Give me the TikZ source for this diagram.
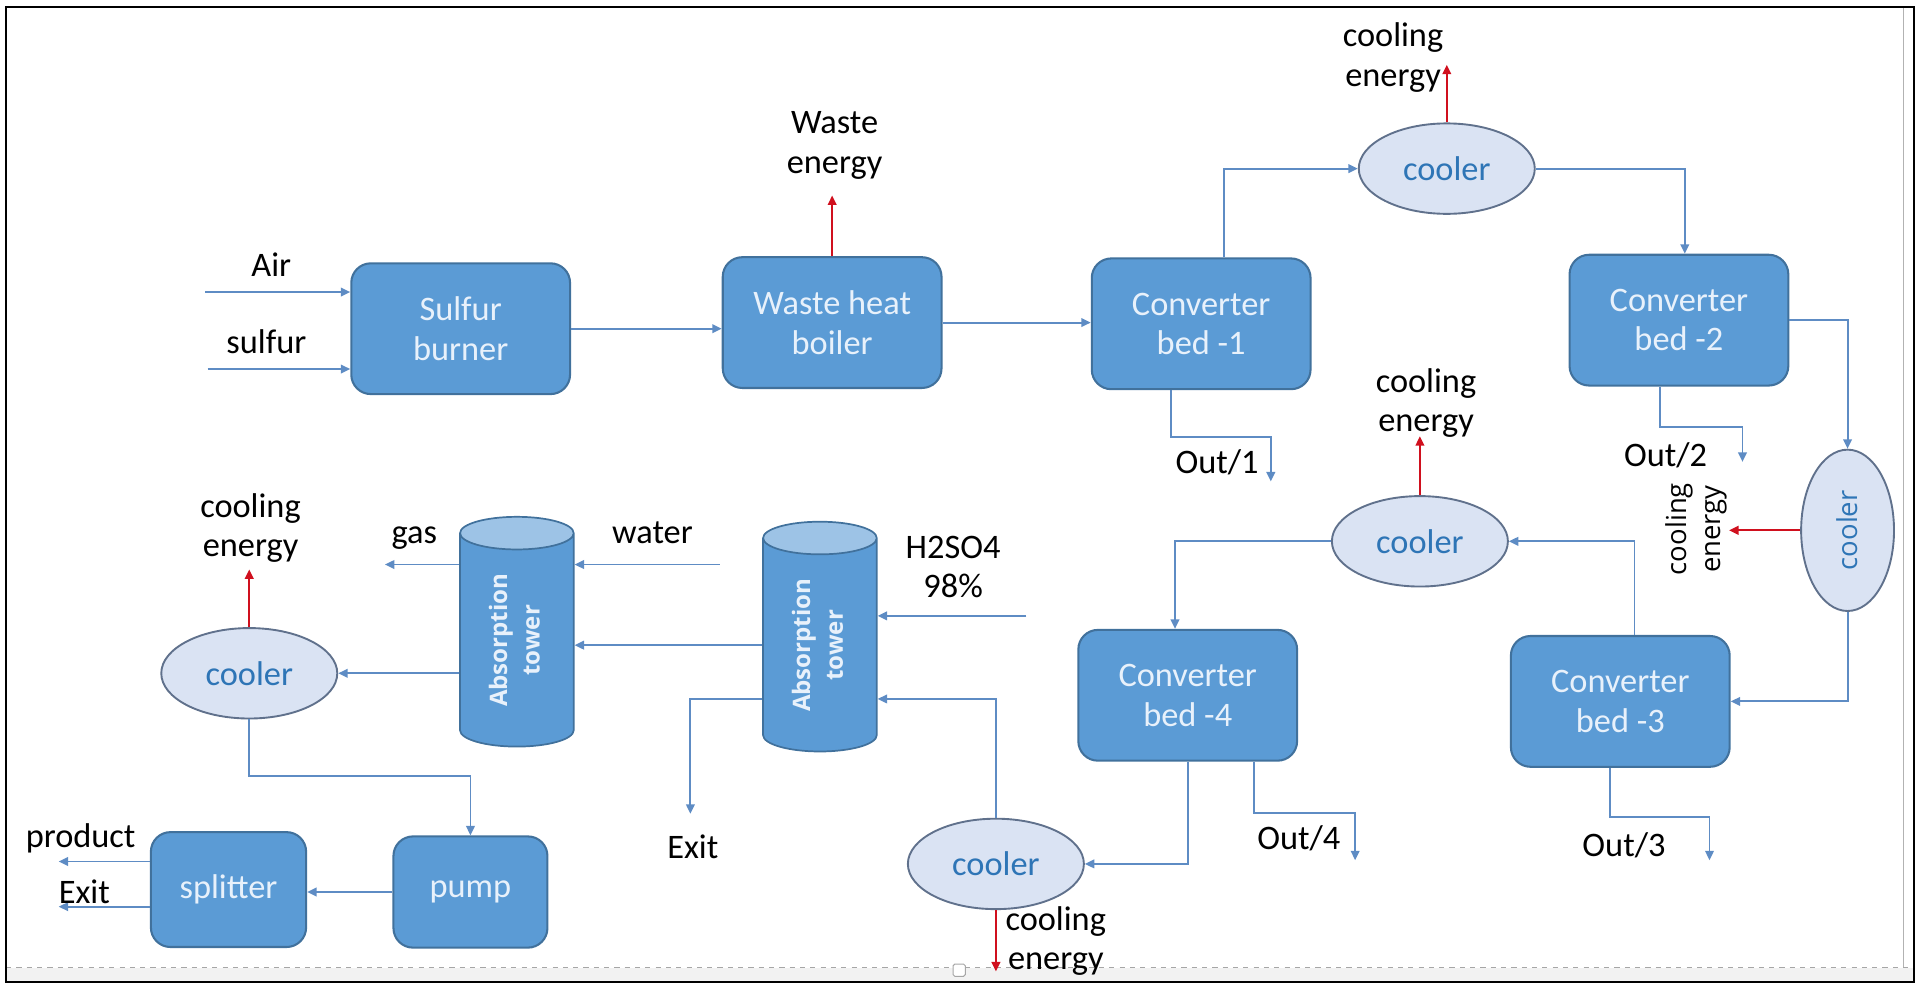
\documentclass[tikz,border=0pt]{standalone}
\usepackage{fontspec}
\setmainfont{Carlito}
\newfontfamily\sidefont{Open Sans}
\usetikzlibrary{arrows.meta,shapes.geometric}

\definecolor{unitblue}{HTML}{5B9BD5}
\definecolor{unitedge}{HTML}{41719C}
\definecolor{unittext}{HTML}{E8F1FB}
\definecolor{capblue}{HTML}{9DC3E6}
\definecolor{coolerfill}{HTML}{DAE3F3}
\definecolor{cooleredge}{HTML}{60718C}
\definecolor{coolertext}{HTML}{2E75B6}
\definecolor{flowblue}{HTML}{5E8CC4}
\definecolor{heatred}{HTML}{D0101E}

\tikzset{
  unit/.style={draw=unitedge, line width=1.2pt, fill=unitblue, rounded corners=0.4cm, text=unittext, align=center, minimum width=4.475cm, minimum height=2.675cm},
  cooler/.style={ellipse, draw=cooleredge, line width=1.1pt, fill=coolerfill, text=coolertext, minimum width=3.6cm, minimum height=1.85cm, inner sep=0pt},
  tower/.style={cylinder, shape border rotate=90, aspect=0.5, draw=unitedge, line width=1pt, cylinder uses custom fill, cylinder body fill=unitblue, cylinder end fill=capblue, minimum width=2.325cm, minimum height=4.7cm, inner sep=0pt, text=unittext, font=\sidefont\bfseries\fontsize{14}{19}\selectfont},
  flow/.style={draw=flowblue, line width=1.1pt, -{Triangle[length=5.5pt,width=5pt]}},
  heat/.style={draw=heatred, line width=1.2pt, -{Triangle[length=5.5pt,width=5pt]}},
  lbl/.style={align=center, inner sep=0pt}
}

\begin{document}
\begin{tikzpicture}[x=0.025cm, y=-0.025cm, font=\fontsize{20}{23}\selectfont]
    \useasboundingbox (0,0) rectangle (1568,808);
    \fill[gray!10] (5,792) rectangle (1566,804);
    \draw[gray!60, line width=0.8pt] (1558,6) -- (1558,792);
    \draw[gray!70, dashed, line width=0.6pt] (5,792) -- (1566,792);
    \draw[gray!70, fill=white, rounded corners=1pt, line width=0.6pt] (780,789) rectangle (790,799);
    \draw[line width=1.2pt] (5,6) rectangle (1566,804);

    \node[unit] (burner) at (377,269) {Sulfur\\burner};
    \node[unit] (boiler) at (681,264) {Waste heat\\boiler};
    \node[unit] (bed1) at (983,265) {Converter\\bed -1};
    \node[unit] (bed2) at (1374,262) {Converter\\bed -2};
    \node[unit] (bed3) at (1326,574) {Converter\\bed -3};
    \node[unit] (bed4) at (972,569) {Converter\\bed -4};
    \node[unit, minimum width=3.175cm, minimum height=2.35cm] (splitter) at (187,728) {splitter};
    \node[unit, minimum width=3.15cm, minimum height=2.275cm] (pump) at (385,730) {pump};
    \node[cooler] (cooler1) at (1184,138) {cooler};
    \node[cooler, minimum width=1.9cm, minimum height=3.3cm, font=\sidefont\fontsize{16}{20}\selectfont] (cooler2) at (1512,434) {\rotatebox{90}{cooler}};
    \node[cooler] (cooler3) at (1162,443) {cooler};
    \node[cooler] (cooler4) at (815,707) {cooler};
    \node[cooler] (cooler5) at (204,551) {cooler};
    \node[tower] (tower1) at (423,524) {\rotatebox{90}{\begin{tabular}{@{}c@{}}Absorption\\tower\end{tabular}}};
    \node[tower] (tower2) at (671,528) {\rotatebox{90}{\begin{tabular}{@{}c@{}}Absorption\\tower\end{tabular}}};

    \coordinate (airin) at (168,239);
    \coordinate (sulfin) at (170,302);
    \coordinate (wasteout) at (681,160);
    \coordinate (cool1out) at (1184,53);
    \coordinate (cool2out) at (1415,434);
    \coordinate (cool3out) at (1162,357);
    \coordinate (cool4out) at (815,795);
    \coordinate (cool5out) at (204,466);
    \coordinate (out1) at (1040,394);
    \coordinate (out2) at (1426,378);
    \coordinate (out3) at (1399,704);
    \coordinate (out4) at (1109,704);
    \coordinate (acidin) at (840,504);
    \coordinate (waterin) at (589,462);
    \coordinate (gasout) at (315,462);
    \coordinate (exit1) at (565,666);
    \coordinate (prodout) at (48,705);
    \coordinate (exit2) at (48,742);

    \draw[flow] (airin) -- (airin -| burner.west);
    \draw[flow] (sulfin) -- (sulfin -| burner.west);
    \draw[flow] (burner.east) -- (burner.east -| boiler.west);
    \draw[flow] (boiler.east) -- (boiler.east -| bed1.west);
    \draw[heat] (boiler) -- (wasteout);
    \draw[flow] ([xshift=0.46cm]bed1.north) |- (cooler1.west);
    \draw[flow] (cooler1.east) -| ([xshift=0.12cm]bed2.north);
    \draw[heat] (cooler1) -- (cool1out);
    \draw[flow] ([xshift=-0.61cm]bed1.south) -- ++(0,38) -| (out1);
    \draw[flow] ([xshift=-0.38cm]bed2.south) -- ++(0,33) -| (out2);
    \draw[flow] (bed2.east) -| (cooler2.north);
    \draw[heat] (cooler2) -- (cool2out);
    \draw[flow] (cooler2.south) |- (bed3.east);
    \draw[flow] ([xshift=-0.21cm]bed3.south) -- ++(0,40) -| (out3);
    \draw[flow] ([xshift=0.29cm]bed3.north) |- (cooler3.east);
    \draw[heat] (cooler3) -- (cool3out);
    \draw[flow] (cooler3.west) -| ([xshift=-0.26cm]bed4.north);
    \draw[flow] ([xshift=1.36cm]bed4.south) -- ++(0,42) -| (out4);
    \draw[flow] (bed4.south) |- (cooler4.east);
    \draw[heat] (cooler4) -- (cool4out);
    \draw[flow] (cooler4.north) |- ([yshift=-1.1cm]tower2.east);
    \draw[flow] (acidin) -- (acidin -| tower2.east);
    \draw[flow] (tower2.west) -- (tower2.west -| tower1.east);
    \draw[flow] ([yshift=-1.1cm]tower2.west) -| (exit1);
    \draw[flow] (waterin) -- (waterin -| tower1.east);
    \draw[flow] (waterin -| tower1.west) -- (gasout);
    \draw[flow] (cooler5.east -| tower1.west) -- (cooler5.east);
    \draw[heat] (cooler5) -- (cool5out);
    \draw[flow] (cooler5.south) -- ++(0,46) -| (pump.north);
    \draw[flow] (pump.west) -- (pump.west -| splitter.east);
    \draw[flow] (prodout -| splitter.west) -- (prodout);
    \draw[flow] (exit2 -| splitter.west) -- (exit2);

    \node[lbl] (airlbl) at (222,217) {Air};
    \node[lbl] (sulflbl) at (218,280) {sulfur};
    \node[lbl] (wastelbl) at (683,119) {Waste\\energy};
    \node[lbl] (cool1lbl) at (1140,47) {cooling\\energy};
    \node[lbl] (out1lbl) at (996,378) {Out/1};
    \node[lbl] (out2lbl) at (1363,373) {Out/2};
    \node[lbl] (cool3lbl) at (1167,330) {cooling\\energy};
    \node[lbl, rotate=90, font=\sidefont\fontsize{16}{20}\selectfont] (cool2lbl) at (1388,433) {cooling\\energy};
    \node[lbl] (out3lbl) at (1329,692) {Out/3};
    \node[lbl] (out4lbl) at (1063,686) {Out/4};
    \node[lbl] (cool4lbl) at (864,770) {cooling\\energy};
    \node[lbl] (acidlbl) at (780,464) {H2SO4\\98\%};
    \node[lbl] (exit1lbl) at (567,693) {Exit};
    \node[lbl] (waterlbl) at (534,436) {water};
    \node[lbl] (gaslbl) at (339,440) {gas};
    \node[lbl] (cool5lbl) at (205,432) {cooling\\energy};
    \node[lbl] (prodlbl) at (66,686) {product};
    \node[lbl] (exit2lbl) at (69,730) {Exit};
\end{tikzpicture}
\end{document}
